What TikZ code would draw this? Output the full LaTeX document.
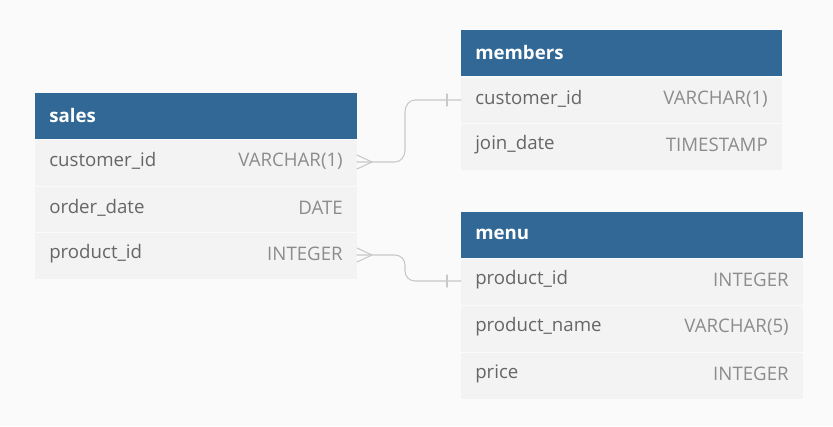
\documentclass[tikz,border=0pt]{standalone}
\usepackage{fontspec}
\setmainfont{Open Sans}
\usetikzlibrary{positioning}
\definecolor{hdr}{HTML}{316896}
\definecolor{rowbg}{HTML}{F3F3F3}
\definecolor{txt}{HTML}{666666}
\definecolor{typ}{HTML}{8C8C8C}
\definecolor{lnk}{HTML}{C8C8C8}
\tikzset{
  head/.style={fill=hdr,draw=none},
  row/.style={fill=rowbg,draw=none},
  colname/.style={anchor=west,text=txt,inner sep=0pt,font=\fontsize{14}{16}\selectfont},
  coltype/.style={anchor=east,text=typ,inner sep=0pt,font=\fontsize{14}{16}\selectfont},
  title/.style={anchor=west,text=white,inner sep=0pt,font=\bfseries\fontsize{14}{16}\selectfont},
  link/.style={draw=lnk,line width=0.8pt}
}
% table: name, left x, right x, top y, then rows
\newcommand{\erhead}[4]{%
  \fill[head] (#2,#3) rectangle (#4,#3+46);
  \node[title] (#1) at (#2+14,#3+22) {#1};}
\newcommand{\errow}[7]{%
  \fill[row] (#2,#4) rectangle (#3,#4+46.5);
  \draw[white!60!rowbg,line width=0.3pt] (#2,#4) -- (#3,#4);
  \node[colname] (#1) at (#2+14,#4+22) {#5};
  \node[coltype] (#1t) at (#3-14,#4+22) {#6};
  \coordinate (#1l) at (#2,#4+23);
  \coordinate (#1r) at (#3,#4+23);}
\begin{document}
\begin{tikzpicture}[x=0.75pt,y=-0.75pt,line cap=round]
\fill[white!98!black] (0,0) rectangle (833,426);
% sales
\erhead{sales}{35}{93}{357}
\errow{scust}{35}{357}{139}{customer\_id}{VARCHAR(1)}{}
\errow{sdate}{35}{357}{186}{order\_date}{DATE}{}
\errow{sprod}{35}{357}{232}{product\_id}{INTEGER}{}
% members
\erhead{members}{461}{30}{782}
\errow{mcust}{461}{782}{77}{customer\_id}{VARCHAR(1)}{}
\errow{mjoin}{461}{782}{123}{join\_date}{TIMESTAMP}{}
% menu
\erhead{menu}{461}{212}{803}
\errow{nprod}{461}{803}{258}{product\_id}{INTEGER}{}
\errow{nname}{461}{803}{305}{product\_name}{VARCHAR(5)}{}
\errow{nprice}{461}{803}{352}{price}{INTEGER}{}
% links
\draw[link] (scustr) ++(15,0) coordinate (c1) -- ++(-15,-7);
\draw[link] (c1) -- ++(-15,7);
\draw[link] (scustr) -- ++(38,0) to[out=0,in=-90] ++(10,-12) -- ++(0,-38)
  to[out=90,in=180] ++(10,-12) -- (mcustl);
\draw[link] (mcustl) ++(-14,-6) -- ++(0,12);
\draw[link] (sprodr) ++(15,0) coordinate (c2) -- ++(-15,-7);
\draw[link] (c2) -- ++(-15,7);
\draw[link] (sprodr) -- ++(38,0) to[out=0,in=90] ++(10,10) -- ++(0,6)
  to[out=-90,in=180] ++(10,10) -- (nprodl);
\draw[link] (nprodl) ++(-14,-6) -- ++(0,12);
\end{tikzpicture}
\end{document}
